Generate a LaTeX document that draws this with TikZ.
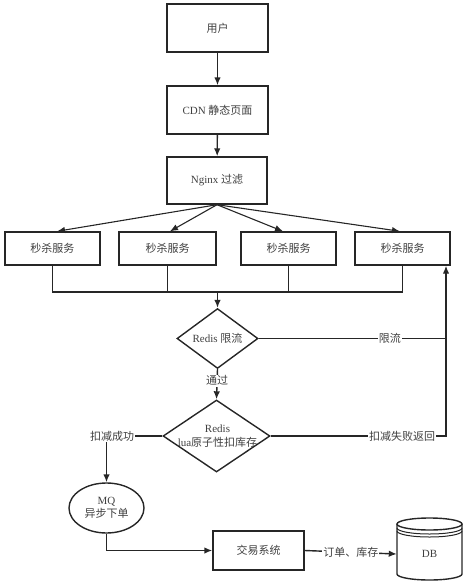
\documentclass[tikz,border=0pt]{standalone}
\usepackage{fontspec}
\setmainfont{Liberation Serif}
\newfontfamily\cjk{Noto Sans CJK SC}
\usetikzlibrary{shapes.geometric,arrows.meta}

\begin{document}
\begin{tikzpicture}[x=1pt, y=-1pt,
  every node/.style={text=black!75, font=\fontsize{11}{13.5}\selectfont},
  box/.style={draw=black!85, line width=1.4pt, minimum width=101pt, minimum height=48pt, inner sep=0pt},
  svc/.style={box, minimum width=95pt, minimum height=33pt},
  diam/.style={draw=black!85, line width=1.4pt, diamond, inner sep=0pt},
  ell/.style={draw=black!85, line width=1.4pt, ellipse, inner sep=0pt, align=center},
  lbl/.style={fill=white, inner sep=1pt},
  arr/.style={draw=black!85, line width=1.4pt, -{Latex[length=8pt,width=6.5pt]}},
  ln/.style={draw=black!85, line width=1.4pt}]

\useasboundingbox (0,0) rectangle (474,584);

% top chain
\node[box] (user)  at (217.5, 28)  {{\cjk 用户}};
\node[box] (cdn)   at (217.5, 110) {CDN {\cjk 静态页面}};
\node[box, minimum width=100pt, minimum height=47pt] (nginx) at (217, 180.5) {Nginx {\cjk 过滤}};

\draw[arr] (user) -- (cdn);
\draw[arr] (cdn) -- (nginx);

% services
\node[svc] (b1) at (52.5, 248.5)  {{\cjk 秒杀服务}};
\node[svc, minimum width=97pt] (b2) at (167.5, 248.5) {{\cjk 秒杀服务}};
\node[svc] (b3) at (288.5, 248.5) {{\cjk 秒杀服务}};
\node[svc] (b4) at (402.5, 248.5) {{\cjk 秒杀服务}};

\draw[arr, line width=1.1pt] (nginx.south) -- ([xshift=4.5pt]b1.north);
\draw[arr, line width=1.1pt] (nginx.south) -- ([xshift=2.5pt]b2.north);
\draw[arr, line width=1.1pt] (nginx.south) -- ([xshift=-5.5pt]b3.north);
\draw[arr, line width=1.1pt] (nginx.south) -- ([xshift=-2.5pt]b4.north);

% merge
\coordinate (m) at (217.5, 292);
\draw[ln] (b1.south) -- (b1.south |- m) -- (b4.south |- m) -- (b4.south);
\draw[ln] (b2.south) -- (b2.south |- m);
\draw[ln] (b3.south) -- (b3.south |- m);

% redis checks
\node[diam, minimum width=81pt, minimum height=39pt] (d1) at (217.5, 338.5) {Redis {\cjk 限流}};
\node[diam, minimum width=107pt, minimum height=72pt] (d2) at (216.5, 436) {};
\node[align=center, inner sep=0pt] (d2txt) at (217.5, 436) {Redis\\lua{\cjk 原子性扣库存}};

\draw[arr] (m) -- (d1.north);
\draw[arr] (d1.south) -- node[lbl, pos=0.38] (pass) {{\cjk 通过}} (d2.north);

% failure back
\coordinate (ret) at (446, 436);
\node[lbl] (fail) at (402, 436) {{\cjk 扣减失败返回}};
\draw[ln] (d2.east) -- (fail.west);
\draw[arr] (fail.east) -- (ret) -- (ret |- b4.south);
\draw[ln] (d1.east) -- node[lbl, pos=0.7] (limit) {{\cjk 限流}} (d1.east -| ret);

% success
\node[lbl] (ok) at (112, 436) {{\cjk 扣减成功}};
\node[ell, minimum width=75pt, minimum height=50pt] (mq) at (106.5, 508) {MQ\\{\cjk 异步下单}};
\draw[ln] (d2.west) -- (ok.east);
\draw[arr] (ok.south -| mq.north) -- (mq.north);

\node[box, minimum width=91pt, minimum height=39pt] (trade) at (258.5, 550.5) {{\cjk 交易系统}};
\draw[arr] (mq.south) |- (trade.west);

% database
\node[minimum width=65pt, minimum height=50pt, yshift=-5pt] (db) at (429.5, 549) {DB};
\coordinate (dbt) at (429.5, 524);
\coordinate (dbb) at (429.5, 574);
\draw[ln] (dbt) ellipse [x radius=32.5, y radius=6];
\draw[ln] ([xshift=-32.5pt]dbt) -- ([xshift=-32.5pt]dbb)
  arc [start angle=180, end angle=0, x radius=32.5, y radius=6] -- ([xshift=32.5pt]dbt);
\draw[line width=1pt, black!85] (397, 528) arc [start angle=180, end angle=0, x radius=32.5, y radius=6];
\draw[line width=1pt, black!85] (397, 531) arc [start angle=180, end angle=0, x radius=32.5, y radius=6];

\draw[arr] (trade.east) -- node[lbl] (order) {{\cjk 订单、库存}} (db.west);

\end{tikzpicture}
\end{document}
